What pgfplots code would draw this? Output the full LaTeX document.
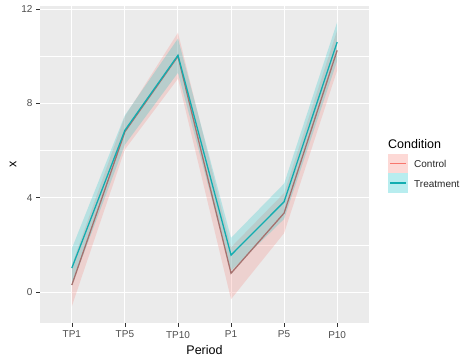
\documentclass[border=0pt]{standalone}
\usepackage{pgfplots}
\pgfplotsset{compat=1.18}
\usepackage{fontspec}
\setmainfont{Liberation Sans}
\definecolor{ctrl}{HTML}{F8766D}
\definecolor{ctrlline}{HTML}{A6716E}
\definecolor{trt}{HTML}{00BFC4}
\definecolor{trtline}{HTML}{12ADB0}
\definecolor{panel}{HTML}{EBEBEB}
\definecolor{tickc}{HTML}{4D4D4D}
\definecolor{tickm}{HTML}{333333}
\begin{document}
\begin{tikzpicture}
\begin{axis}[
  at={(0,0)}, anchor=south west,
  scale only axis, width=329bp, height=317bp,
  xmin=0.4, xmax=6.6, ymin=-1.31, ymax=12.13,
  xtick={1,2,3,4,5,6},
  xticklabels={TP1,TP5,TP10,P1,P5,P10},
  ytick={0,4,8,12},
  minor ytick={2,6,10},
  xtick pos=bottom, ytick pos=left,
  grid=both,
  major grid style={white, line width=1bp},
  minor grid style={white, line width=0.5bp},
  axis line style={draw=none},
  axis background/.style={fill=panel},
  tick align=outside,
  major tick length=3.5bp,
  minor tick length=0pt,
  tick style={tickm, line width=0.6bp},
  every tick label/.append style={font=\fontsize{10bp}{12bp}\selectfont, text=tickc},
  xticklabel style={yshift=-1bp},
  yticklabel style={xshift=-0.5bp},
  /pgf/number format/assume math mode=true,
  xlabel={Period}, ylabel={x},
  xlabel style={at={(axis description cs:0.5,-0.085)}, anchor=center, font=\fontsize{12.5bp}{14bp}\selectfont},
  ylabel style={at={(axis description cs:-0.082,0.5)}, anchor=center, font=\fontsize{12.5bp}{14bp}\selectfont},
]
% ribbons: upper bound forward, lower bound backward
\addplot[fill=ctrl, fill opacity=0.22, draw=none, no marks] coordinates {
 (1,1.15) (2,7.45) (3,11.00) (4,1.90) (5,4.20) (6,11.10)
 (6,9.40) (5,2.50) (4,-0.30) (3,9.05) (2,6.05) (1,-0.60)} -- cycle;
\addplot[fill=trt, fill opacity=0.22, draw=none, no marks] coordinates {
 (1,1.85) (2,7.50) (3,10.75) (4,2.30) (5,4.60) (6,11.45)
 (6,9.80) (5,3.10) (4,0.90) (3,9.30) (2,6.25) (1,0.30)} -- cycle;
% lines
\addplot[ctrlline, line width=1.3bp, no marks] coordinates {(1,0.30) (2,6.80) (3,10.00) (4,0.80) (5,3.35) (6,10.25)};
\addplot[trtline, line width=1.3bp, no marks] coordinates {(1,1.02) (2,6.86) (3,10.04) (4,1.57) (5,3.83) (6,10.60)};
\end{axis}
% legend
\node[anchor=west, font=\fontsize{12.5bp}{14bp}\selectfont, inner sep=0pt] at (348bp,179bp) {Condition};
\fill[ctrl, opacity=0.28] (348bp,150bp) rectangle (368bp,169bp);
\draw[ctrl, line width=1.3bp] (350bp,159.5bp) -- (366bp,159.5bp);
\fill[trt, opacity=0.28] (348bp,130bp) rectangle (368bp,150bp);
\draw[trtline, line width=1.3bp] (350bp,140bp) -- (366bp,140bp);
\node[anchor=west, font=\fontsize{10bp}{12bp}\selectfont, inner sep=0pt, text=black!85] at (374bp,159bp) {Control};
\node[anchor=west, font=\fontsize{10bp}{12bp}\selectfont, inner sep=0pt, text=black!85] at (374bp,139bp) {Treatment};
\path[use as bounding box] (-40bp,-40bp) rectangle (434bp,323bp);
\end{tikzpicture}
\end{document}
